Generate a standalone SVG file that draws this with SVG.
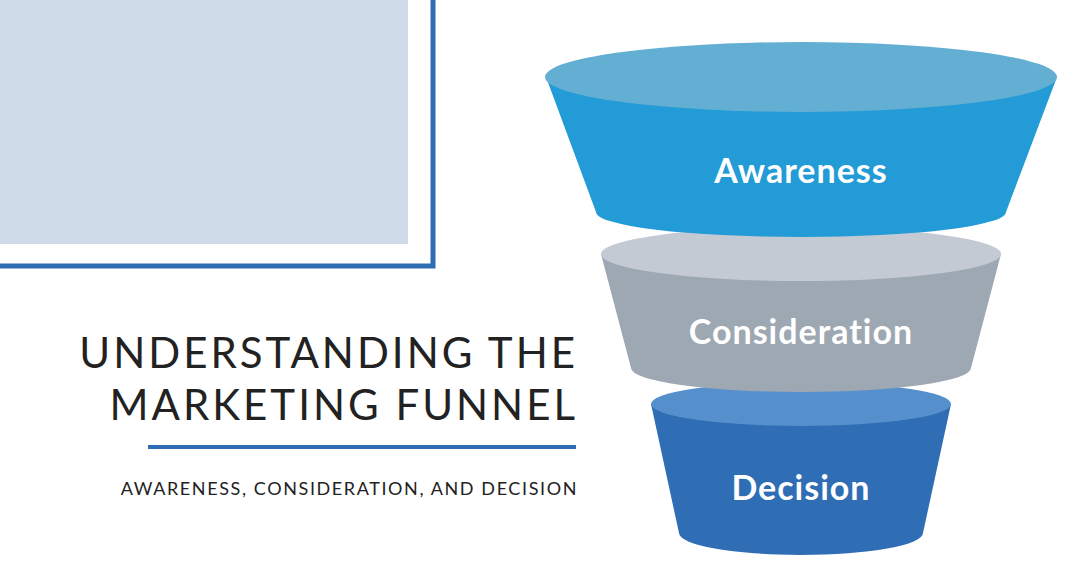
<svg xmlns="http://www.w3.org/2000/svg" width="1080" height="587" viewBox="0 0 1080 587">
<style>
.t{font-family:Lato,"Liberation Sans",sans-serif;fill:#222;}
.f{font-family:Lato,"Liberation Sans",sans-serif;fill:#fff;font-weight:bold;font-size:34px;text-anchor:middle;letter-spacing:1px}
</style>
<rect width="1080" height="587" fill="#fff"/>
<g id="frame">
<rect x="0" y="0" width="408" height="244" fill="#CFDBE8"/>
<path d="M433,0 V266 H0" fill="none" stroke="#2E6DB4" stroke-width="5"/>
</g>
<g id="title">
<text class="t" x="578" y="368" font-size="42" text-anchor="end" letter-spacing="3">UNDERSTANDING THE</text>
<text class="t" x="578" y="420" font-size="42" text-anchor="end" letter-spacing="3">MARKETING FUNNEL</text>
<rect x="148" y="445" width="428" height="4" fill="#2E6DB4"/>
<text class="t" x="578" y="495" font-size="18" text-anchor="end" letter-spacing="1.6">AWARENESS, CONSIDERATION, AND DECISION</text>
</g>
<g id="decision">
<path d="M651,404 L679,533 A122,22 0 0 0 923,533 L951,404 Z" fill="#2F6DB5"/>
<ellipse cx="801" cy="404" rx="150" ry="22" fill="#5590CC"/>
<text class="f" x="801" y="500">Decision</text>
</g>
<g id="consideration">
<path d="M601,254 L631,368 A170,24 0 0 0 971,368 L1001,254 Z" fill="#9EA8B2"/>
<ellipse cx="801" cy="254" rx="200" ry="27" fill="#C4CAD3"/>
<text class="f" x="801" y="344">Consideration</text>
</g>
<g id="awareness">
<path d="M546,77 L596,212 A205,25 0 0 0 1006,212 L1057,77 Z" fill="#229BD6"/>
<ellipse cx="801" cy="77" rx="256" ry="35" fill="#63AED3"/>
<text class="f" x="801" y="183">Awareness</text>
</g>
<g id="connectors"/>
</svg>
